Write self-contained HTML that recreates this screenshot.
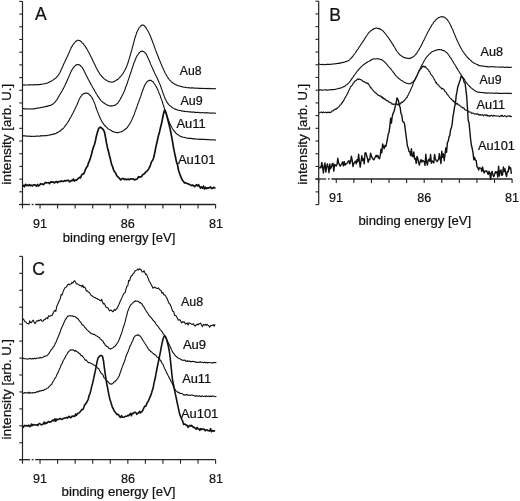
<!DOCTYPE html>
<html><head><meta charset="utf-8"><title>XPS spectra</title>
<style>html,body{margin:0;padding:0;background:#fff;width:520px;height:501px;overflow:hidden}svg{display:block}</style>
</head><body>
<svg width="520" height="501" viewBox="0 0 520 501">
<rect width="520" height="501" fill="#fff"/>
<g font-family="&quot;Liberation Sans&quot;, Arial, sans-serif" fill="#111" stroke="#111" stroke-width="0.22">
<text x="35" y="19.8" font-size="17.5" text-anchor="start" >A</text>
<text x="329.3" y="20.8" font-size="17.5" text-anchor="start" >B</text>
<text x="32.3" y="275.1" font-size="17.5" text-anchor="start" >C</text>
<text transform="translate(11.4,184.82) rotate(-90)" x="0" y="0" font-size="12.5" textLength="50.55" lengthAdjust="spacingAndGlyphs">intensity</text>
<text transform="translate(11.4,130.74) rotate(-90)" x="0" y="0" font-size="12.5" textLength="46.88" lengthAdjust="spacingAndGlyphs">[arb. U.]</text>
<text transform="translate(306.8,184.83) rotate(-90)" x="0" y="0" font-size="12.5" textLength="50.85" lengthAdjust="spacingAndGlyphs">intensity</text>
<text transform="translate(306.8,130.54) rotate(-90)" x="0" y="0" font-size="12.5" textLength="46.78" lengthAdjust="spacingAndGlyphs">[arb. U.]</text>
<text transform="translate(11.4,439.42) rotate(-90)" x="0" y="0" font-size="12.5" textLength="50.24" lengthAdjust="spacingAndGlyphs">intensity</text>
<text transform="translate(11.4,385.53) rotate(-90)" x="0" y="0" font-size="12.5" textLength="46.46" lengthAdjust="spacingAndGlyphs">[arb. U.]</text>
<text x="40.0" y="227.6" font-size="13" text-anchor="middle" textLength="14.0" lengthAdjust="spacingAndGlyphs" >91</text>
<text x="127.7" y="227.6" font-size="13" text-anchor="middle" textLength="14.0" lengthAdjust="spacingAndGlyphs" >86</text>
<text x="216.0" y="227.6" font-size="13" text-anchor="middle" textLength="14.0" lengthAdjust="spacingAndGlyphs" >81</text>
<text x="335.9" y="202.3" font-size="13" text-anchor="middle" textLength="14.0" lengthAdjust="spacingAndGlyphs" >91</text>
<text x="424.3" y="202.3" font-size="13" text-anchor="middle" textLength="14.0" lengthAdjust="spacingAndGlyphs" >86</text>
<text x="512.1" y="202.3" font-size="13" text-anchor="middle" textLength="14.0" lengthAdjust="spacingAndGlyphs" >81</text>
<text x="40.0" y="483.0" font-size="13" text-anchor="middle" textLength="14.0" lengthAdjust="spacingAndGlyphs" >91</text>
<text x="128.0" y="483.0" font-size="13" text-anchor="middle" textLength="14.0" lengthAdjust="spacingAndGlyphs" >86</text>
<text x="215.9" y="483.0" font-size="13" text-anchor="middle" textLength="14.0" lengthAdjust="spacingAndGlyphs" >81</text>
<text x="62.8" y="241.6" font-size="13" text-anchor="start" textLength="112.5" lengthAdjust="spacingAndGlyphs" >binding energy [eV]</text>
<text x="358.5" y="225.2" font-size="13" text-anchor="start" textLength="112.7" lengthAdjust="spacingAndGlyphs" >binding energy [eV]</text>
<text x="61.6" y="496.0" font-size="13" text-anchor="start" textLength="113.9" lengthAdjust="spacingAndGlyphs" >binding energy [eV]</text>
<text x="179.75" y="75.4" font-size="12.5" text-anchor="start" textLength="21.7" lengthAdjust="spacingAndGlyphs" >Au8</text>
<text x="180.4" y="104.6" font-size="12.5" text-anchor="start" textLength="22.2" lengthAdjust="spacingAndGlyphs" >Au9</text>
<text x="176.5" y="128.4" font-size="12.5" text-anchor="start" textLength="29.2" lengthAdjust="spacingAndGlyphs" >Au11</text>
<text x="177.9" y="164.2" font-size="12.5" text-anchor="start" textLength="37.6" lengthAdjust="spacingAndGlyphs" >Au101</text>
<text x="480.5" y="56.1" font-size="12.5" text-anchor="start" textLength="22.5" lengthAdjust="spacingAndGlyphs" >Au8</text>
<text x="479.6" y="83.5" font-size="12.5" text-anchor="start" textLength="21.9" lengthAdjust="spacingAndGlyphs" >Au9</text>
<text x="476.4" y="108.5" font-size="12.5" text-anchor="start" textLength="28.8" lengthAdjust="spacingAndGlyphs" >Au11</text>
<text x="478.0" y="150.0" font-size="12.5" text-anchor="start" textLength="36.9" lengthAdjust="spacingAndGlyphs" >Au101</text>
<text x="180.9" y="305.6" font-size="12.5" text-anchor="start" textLength="22.2" lengthAdjust="spacingAndGlyphs" >Au8</text>
<text x="182.9" y="349.1" font-size="12.5" text-anchor="start" textLength="23.2" lengthAdjust="spacingAndGlyphs" >Au9</text>
<text x="182.2" y="383.0" font-size="12.5" text-anchor="start" textLength="29.0" lengthAdjust="spacingAndGlyphs" >Au11</text>
<text x="180.9" y="417.5" font-size="12.5" text-anchor="start" textLength="37.4" lengthAdjust="spacingAndGlyphs" >Au101</text>
</g>
<line x1="22.5" y1="1.4" x2="22.5" y2="204.5" stroke="#222" stroke-width="1.2"/>
<line x1="19.3" y1="1.40" x2="22.5" y2="1.40" stroke="#222" stroke-width="1.1"/>
<line x1="19.3" y1="14.09" x2="22.5" y2="14.09" stroke="#222" stroke-width="1.1"/>
<line x1="19.3" y1="26.79" x2="22.5" y2="26.79" stroke="#222" stroke-width="1.1"/>
<line x1="19.3" y1="39.48" x2="22.5" y2="39.48" stroke="#222" stroke-width="1.1"/>
<line x1="19.3" y1="52.17" x2="22.5" y2="52.17" stroke="#222" stroke-width="1.1"/>
<line x1="19.3" y1="64.87" x2="22.5" y2="64.87" stroke="#222" stroke-width="1.1"/>
<line x1="19.3" y1="77.56" x2="22.5" y2="77.56" stroke="#222" stroke-width="1.1"/>
<line x1="19.3" y1="90.26" x2="22.5" y2="90.26" stroke="#222" stroke-width="1.1"/>
<line x1="19.3" y1="102.95" x2="22.5" y2="102.95" stroke="#222" stroke-width="1.1"/>
<line x1="19.3" y1="115.64" x2="22.5" y2="115.64" stroke="#222" stroke-width="1.1"/>
<line x1="19.3" y1="128.34" x2="22.5" y2="128.34" stroke="#222" stroke-width="1.1"/>
<line x1="19.3" y1="141.03" x2="22.5" y2="141.03" stroke="#222" stroke-width="1.1"/>
<line x1="19.3" y1="153.72" x2="22.5" y2="153.72" stroke="#222" stroke-width="1.1"/>
<line x1="19.3" y1="166.42" x2="22.5" y2="166.42" stroke="#222" stroke-width="1.1"/>
<line x1="19.3" y1="179.11" x2="22.5" y2="179.11" stroke="#222" stroke-width="1.1"/>
<line x1="19.3" y1="191.81" x2="22.5" y2="191.81" stroke="#222" stroke-width="1.1"/>
<line x1="19.3" y1="204.50" x2="22.5" y2="204.50" stroke="#222" stroke-width="1.1"/>
<line x1="19.30" y1="204.5" x2="30.00" y2="204.5" stroke="#222" stroke-width="1.3"/>
<line x1="31.70" y1="204.5" x2="33.50" y2="204.5" stroke="#222" stroke-width="1.3"/>
<line x1="35.20" y1="204.5" x2="215.60" y2="204.5" stroke="#222" stroke-width="1.3"/>
<line x1="22.50" y1="204.5" x2="22.50" y2="208.5" stroke="#222" stroke-width="1.1"/>
<line x1="40.05" y1="204.5" x2="40.05" y2="208.5" stroke="#222" stroke-width="1.1"/>
<line x1="57.61" y1="204.5" x2="57.61" y2="208.5" stroke="#222" stroke-width="1.1"/>
<line x1="75.16" y1="204.5" x2="75.16" y2="208.5" stroke="#222" stroke-width="1.1"/>
<line x1="92.72" y1="204.5" x2="92.72" y2="208.5" stroke="#222" stroke-width="1.1"/>
<line x1="110.27" y1="204.5" x2="110.27" y2="208.5" stroke="#222" stroke-width="1.1"/>
<line x1="127.83" y1="204.5" x2="127.83" y2="208.5" stroke="#222" stroke-width="1.1"/>
<line x1="145.38" y1="204.5" x2="145.38" y2="208.5" stroke="#222" stroke-width="1.1"/>
<line x1="162.94" y1="204.5" x2="162.94" y2="208.5" stroke="#222" stroke-width="1.1"/>
<line x1="180.49" y1="204.5" x2="180.49" y2="208.5" stroke="#222" stroke-width="1.1"/>
<line x1="198.05" y1="204.5" x2="198.05" y2="208.5" stroke="#222" stroke-width="1.1"/>
<line x1="215.60" y1="204.5" x2="215.60" y2="208.5" stroke="#222" stroke-width="1.1"/>
<line x1="318.7" y1="1.2" x2="318.7" y2="204.6" stroke="#222" stroke-width="1.2"/>
<line x1="315.5" y1="1.20" x2="318.7" y2="1.20" stroke="#222" stroke-width="1.1"/>
<line x1="315.5" y1="13.91" x2="318.7" y2="13.91" stroke="#222" stroke-width="1.1"/>
<line x1="315.5" y1="26.62" x2="318.7" y2="26.62" stroke="#222" stroke-width="1.1"/>
<line x1="315.5" y1="39.34" x2="318.7" y2="39.34" stroke="#222" stroke-width="1.1"/>
<line x1="315.5" y1="52.05" x2="318.7" y2="52.05" stroke="#222" stroke-width="1.1"/>
<line x1="315.5" y1="64.76" x2="318.7" y2="64.76" stroke="#222" stroke-width="1.1"/>
<line x1="315.5" y1="77.48" x2="318.7" y2="77.48" stroke="#222" stroke-width="1.1"/>
<line x1="315.5" y1="90.19" x2="318.7" y2="90.19" stroke="#222" stroke-width="1.1"/>
<line x1="315.5" y1="102.90" x2="318.7" y2="102.90" stroke="#222" stroke-width="1.1"/>
<line x1="315.5" y1="115.61" x2="318.7" y2="115.61" stroke="#222" stroke-width="1.1"/>
<line x1="315.5" y1="128.32" x2="318.7" y2="128.32" stroke="#222" stroke-width="1.1"/>
<line x1="315.5" y1="141.04" x2="318.7" y2="141.04" stroke="#222" stroke-width="1.1"/>
<line x1="315.5" y1="153.75" x2="318.7" y2="153.75" stroke="#222" stroke-width="1.1"/>
<line x1="315.5" y1="166.46" x2="318.7" y2="166.46" stroke="#222" stroke-width="1.1"/>
<line x1="315.5" y1="179.17" x2="318.7" y2="179.17" stroke="#222" stroke-width="1.1"/>
<line x1="315.5" y1="191.89" x2="318.7" y2="191.89" stroke="#222" stroke-width="1.1"/>
<line x1="315.5" y1="204.60" x2="318.7" y2="204.60" stroke="#222" stroke-width="1.1"/>
<line x1="315.50" y1="179.0" x2="326.20" y2="179.0" stroke="#222" stroke-width="1.3"/>
<line x1="327.90" y1="179.0" x2="329.70" y2="179.0" stroke="#222" stroke-width="1.3"/>
<line x1="331.40" y1="179.0" x2="512.10" y2="179.0" stroke="#222" stroke-width="1.3"/>
<line x1="318.70" y1="179.0" x2="318.70" y2="183.0" stroke="#222" stroke-width="1.1"/>
<line x1="336.28" y1="179.0" x2="336.28" y2="183.0" stroke="#222" stroke-width="1.1"/>
<line x1="353.86" y1="179.0" x2="353.86" y2="183.0" stroke="#222" stroke-width="1.1"/>
<line x1="371.45" y1="179.0" x2="371.45" y2="183.0" stroke="#222" stroke-width="1.1"/>
<line x1="389.03" y1="179.0" x2="389.03" y2="183.0" stroke="#222" stroke-width="1.1"/>
<line x1="406.61" y1="179.0" x2="406.61" y2="183.0" stroke="#222" stroke-width="1.1"/>
<line x1="424.19" y1="179.0" x2="424.19" y2="183.0" stroke="#222" stroke-width="1.1"/>
<line x1="441.77" y1="179.0" x2="441.77" y2="183.0" stroke="#222" stroke-width="1.1"/>
<line x1="459.35" y1="179.0" x2="459.35" y2="183.0" stroke="#222" stroke-width="1.1"/>
<line x1="476.94" y1="179.0" x2="476.94" y2="183.0" stroke="#222" stroke-width="1.1"/>
<line x1="494.52" y1="179.0" x2="494.52" y2="183.0" stroke="#222" stroke-width="1.1"/>
<line x1="512.10" y1="179.0" x2="512.10" y2="183.0" stroke="#222" stroke-width="1.1"/>
<line x1="22.5" y1="256.4" x2="22.5" y2="459.7" stroke="#222" stroke-width="1.2"/>
<line x1="19.3" y1="256.40" x2="22.5" y2="256.40" stroke="#222" stroke-width="1.1"/>
<line x1="19.3" y1="273.34" x2="22.5" y2="273.34" stroke="#222" stroke-width="1.1"/>
<line x1="19.3" y1="290.28" x2="22.5" y2="290.28" stroke="#222" stroke-width="1.1"/>
<line x1="19.3" y1="307.22" x2="22.5" y2="307.22" stroke="#222" stroke-width="1.1"/>
<line x1="19.3" y1="324.17" x2="22.5" y2="324.17" stroke="#222" stroke-width="1.1"/>
<line x1="19.3" y1="341.11" x2="22.5" y2="341.11" stroke="#222" stroke-width="1.1"/>
<line x1="19.3" y1="358.05" x2="22.5" y2="358.05" stroke="#222" stroke-width="1.1"/>
<line x1="19.3" y1="374.99" x2="22.5" y2="374.99" stroke="#222" stroke-width="1.1"/>
<line x1="19.3" y1="391.93" x2="22.5" y2="391.93" stroke="#222" stroke-width="1.1"/>
<line x1="19.3" y1="408.88" x2="22.5" y2="408.88" stroke="#222" stroke-width="1.1"/>
<line x1="19.3" y1="425.82" x2="22.5" y2="425.82" stroke="#222" stroke-width="1.1"/>
<line x1="19.3" y1="442.76" x2="22.5" y2="442.76" stroke="#222" stroke-width="1.1"/>
<line x1="19.3" y1="459.70" x2="22.5" y2="459.70" stroke="#222" stroke-width="1.1"/>
<line x1="19.30" y1="459.7" x2="30.00" y2="459.7" stroke="#222" stroke-width="1.3"/>
<line x1="31.70" y1="459.7" x2="33.50" y2="459.7" stroke="#222" stroke-width="1.3"/>
<line x1="35.20" y1="459.7" x2="215.60" y2="459.7" stroke="#222" stroke-width="1.3"/>
<line x1="22.50" y1="459.7" x2="22.50" y2="463.7" stroke="#222" stroke-width="1.1"/>
<line x1="40.05" y1="459.7" x2="40.05" y2="463.7" stroke="#222" stroke-width="1.1"/>
<line x1="57.61" y1="459.7" x2="57.61" y2="463.7" stroke="#222" stroke-width="1.1"/>
<line x1="75.16" y1="459.7" x2="75.16" y2="463.7" stroke="#222" stroke-width="1.1"/>
<line x1="92.72" y1="459.7" x2="92.72" y2="463.7" stroke="#222" stroke-width="1.1"/>
<line x1="110.27" y1="459.7" x2="110.27" y2="463.7" stroke="#222" stroke-width="1.1"/>
<line x1="127.83" y1="459.7" x2="127.83" y2="463.7" stroke="#222" stroke-width="1.1"/>
<line x1="145.38" y1="459.7" x2="145.38" y2="463.7" stroke="#222" stroke-width="1.1"/>
<line x1="162.94" y1="459.7" x2="162.94" y2="463.7" stroke="#222" stroke-width="1.1"/>
<line x1="180.49" y1="459.7" x2="180.49" y2="463.7" stroke="#222" stroke-width="1.1"/>
<line x1="198.05" y1="459.7" x2="198.05" y2="463.7" stroke="#222" stroke-width="1.1"/>
<line x1="215.60" y1="459.7" x2="215.60" y2="463.7" stroke="#222" stroke-width="1.1"/>
<path d="M22.50,85.04 L23.00,85.10 L23.50,85.04 L24.00,84.84 L24.50,85.10 L25.00,85.04 L25.50,84.92 L26.00,85.05 L26.50,85.01 L27.00,85.00 L27.50,84.96 L28.00,85.01 L28.50,84.85 L29.00,84.91 L29.50,84.86 L30.00,84.97 L30.50,84.89 L31.00,84.84 L31.50,84.77 L32.00,84.82 L32.50,84.83 L33.00,84.78 L33.50,84.95 L34.00,84.90 L34.50,84.52 L35.00,84.51 L35.50,84.70 L36.00,84.65 L36.50,84.70 L37.00,84.68 L37.50,84.87 L38.00,84.47 L38.50,84.53 L39.00,84.79 L39.50,84.60 L40.00,84.56 L40.50,84.38 L41.00,84.19 L41.50,84.35 L42.00,84.28 L42.50,84.04 L43.00,84.02 L43.50,84.00 L44.00,83.79 L44.50,83.78 L45.00,83.69 L45.50,83.55 L46.00,83.35 L46.50,83.34 L47.00,83.22 L47.50,82.99 L48.00,82.66 L48.50,82.64 L49.00,82.27 L49.50,82.19 L50.00,81.70 L50.50,81.67 L51.00,81.27 L51.50,80.84 L52.00,80.65 L52.50,80.39 L53.00,80.11 L53.50,79.63 L54.00,79.28 L54.50,79.08 L55.00,78.63 L55.50,78.30 L56.00,77.92 L56.50,77.15 L57.00,76.84 L57.50,76.37 L58.00,75.53 L58.50,74.76 L59.00,74.17 L59.50,73.28 L60.00,72.46 L60.50,71.35 L61.00,70.19 L61.50,69.27 L62.00,68.10 L62.50,67.09 L63.00,65.85 L63.50,64.48 L64.00,63.41 L64.50,62.56 L65.00,61.48 L65.50,60.28 L66.00,59.33 L66.50,58.35 L67.00,57.31 L67.50,56.27 L68.00,55.08 L68.50,53.88 L69.00,52.68 L69.50,51.66 L70.00,50.15 L70.50,49.27 L71.00,48.25 L71.50,47.09 L72.00,46.38 L72.50,45.41 L73.00,44.80 L73.50,43.96 L74.00,43.40 L74.50,42.87 L75.00,42.23 L75.50,41.59 L76.00,41.08 L76.50,41.10 L77.00,40.57 L77.50,40.29 L78.00,40.27 L78.50,40.21 L79.00,40.43 L79.50,40.52 L80.00,40.79 L80.50,41.05 L81.00,41.60 L81.50,41.88 L82.00,42.57 L82.50,43.20 L83.00,43.38 L83.50,43.91 L84.00,44.83 L84.50,45.65 L85.00,45.99 L85.50,46.69 L86.00,47.68 L86.50,48.30 L87.00,49.17 L87.50,50.04 L88.00,51.02 L88.50,51.81 L89.00,52.83 L89.50,53.74 L90.00,54.65 L90.50,55.72 L91.00,56.67 L91.50,57.82 L92.00,58.71 L92.50,59.75 L93.00,61.10 L93.50,61.95 L94.00,62.99 L94.50,64.10 L95.00,65.02 L95.50,66.07 L96.00,67.16 L96.50,68.14 L97.00,68.94 L97.50,70.13 L98.00,70.88 L98.50,71.72 L99.00,72.58 L99.50,73.43 L100.00,74.41 L100.50,74.76 L101.00,75.56 L101.50,75.89 L102.00,76.68 L102.50,77.30 L103.00,77.65 L103.50,78.05 L104.00,78.56 L104.50,79.01 L105.00,79.37 L105.50,79.88 L106.00,80.00 L106.50,80.22 L107.00,80.59 L107.50,80.88 L108.00,81.18 L108.50,81.41 L109.00,81.66 L109.50,81.62 L110.00,82.07 L110.50,82.01 L111.00,82.00 L111.50,82.23 L112.00,82.28 L112.50,82.10 L113.00,81.94 L113.50,81.65 L114.00,81.80 L114.50,81.44 L115.00,80.94 L115.50,80.70 L116.00,80.50 L116.50,79.99 L117.00,79.86 L117.50,79.42 L118.00,79.24 L118.50,78.79 L119.00,77.99 L119.50,77.74 L120.00,77.02 L120.50,76.78 L121.00,76.07 L121.50,75.49 L122.00,74.63 L122.50,74.28 L123.00,73.56 L123.50,72.42 L124.00,71.78 L124.50,70.79 L125.00,69.95 L125.50,68.82 L126.00,68.14 L126.50,66.66 L127.00,65.49 L127.50,64.23 L128.00,62.63 L128.50,61.12 L129.00,59.46 L129.50,57.83 L130.00,56.00 L130.50,54.36 L131.00,52.64 L131.50,50.84 L132.00,49.06 L132.50,47.16 L133.00,45.40 L133.50,43.39 L134.00,41.55 L134.50,39.68 L135.00,37.96 L135.50,36.24 L136.00,34.92 L136.50,33.31 L137.00,32.06 L137.50,31.02 L138.00,29.96 L138.50,28.92 L139.00,27.89 L139.50,27.45 L140.00,26.80 L140.50,26.07 L141.00,25.89 L141.50,25.37 L142.00,25.07 L142.50,25.09 L143.00,25.06 L143.50,25.26 L144.00,25.34 L144.50,26.18 L145.00,26.43 L145.50,26.96 L146.00,27.92 L146.50,28.56 L147.00,29.45 L147.50,30.23 L148.00,31.17 L148.50,32.16 L149.00,33.06 L149.50,34.29 L150.00,35.26 L150.50,36.37 L151.00,37.69 L151.50,38.99 L152.00,40.22 L152.50,41.48 L153.00,43.03 L153.50,44.13 L154.00,45.61 L154.50,47.12 L155.00,48.32 L155.50,49.84 L156.00,51.16 L156.50,52.59 L157.00,53.66 L157.50,54.97 L158.00,56.35 L158.50,57.33 L159.00,59.06 L159.50,59.97 L160.00,61.19 L160.50,62.59 L161.00,63.68 L161.50,64.65 L162.00,66.10 L162.50,67.27 L163.00,68.24 L163.50,69.38 L164.00,70.57 L164.50,71.47 L165.00,72.68 L165.50,73.66 L166.00,74.50 L166.50,75.32 L167.00,76.30 L167.50,77.00 L168.00,77.96 L168.50,78.55 L169.00,79.27 L169.50,79.80 L170.00,80.38 L170.50,80.78 L171.00,81.45 L171.50,82.04 L172.00,82.21 L172.50,82.57 L173.00,82.99 L173.50,83.30 L174.00,83.59 L174.50,84.00 L175.00,84.23 L175.50,84.70 L176.00,84.77 L176.50,85.03 L177.00,85.31 L177.50,85.35 L178.00,85.74 L178.50,85.66 L179.00,85.80 L179.50,86.00 L180.00,86.18 L180.50,86.18 L181.00,86.48 L181.50,86.43 L182.00,86.93 L182.50,86.89 L183.00,86.95 L183.50,87.03 L184.00,87.20 L184.50,87.31 L185.00,87.29 L185.50,87.37 L186.00,87.52 L186.50,87.53 L187.00,87.75 L187.50,87.82 L188.00,87.72 L188.50,87.82 L189.00,87.64 L189.50,87.91 L190.00,87.86 L190.50,87.95 L191.00,88.12 L191.50,87.71 L192.00,88.01 L192.50,87.87 L193.00,88.10 L193.50,87.89 L194.00,88.02 L194.50,88.12 L195.00,88.19 L195.50,88.15 L196.00,88.06 L196.50,88.11 L197.00,88.30 L197.50,88.21 L198.00,88.03 L198.50,88.35 L199.00,88.32 L199.50,88.39 L200.00,88.26 L200.50,88.42 L201.00,88.21 L201.50,88.42 L202.00,88.31 L202.50,88.46 L203.00,88.52 L203.50,88.33 L204.00,88.43 L204.50,88.45 L205.00,88.61 L205.50,88.56 L206.00,88.35 L206.50,88.56 L207.00,88.61 L207.50,88.78 L208.00,88.35 L208.50,88.50 L209.00,88.73 L209.50,88.42 L210.00,88.45 L210.50,88.67 L211.00,88.74 L211.50,88.55 L212.00,88.71 L212.50,88.66 L213.00,88.84 L213.50,88.67 L214.00,88.79 L214.50,88.57 L215.00,88.66 L215.50,88.68 L216.00,88.83" fill="none" stroke="#111" stroke-width="1.1" stroke-linejoin="round"/>
<path d="M22.50,108.59 L23.00,108.54 L23.50,108.60 L24.00,108.46 L24.50,108.96 L25.00,108.93 L25.50,108.79 L26.00,108.96 L26.50,108.93 L27.00,108.85 L27.50,109.06 L28.00,108.92 L28.50,108.93 L29.00,108.88 L29.50,109.04 L30.00,108.98 L30.50,109.06 L31.00,108.91 L31.50,108.99 L32.00,108.85 L32.50,109.03 L33.00,108.92 L33.50,108.89 L34.00,108.84 L34.50,108.60 L35.00,108.74 L35.50,108.80 L36.00,108.28 L36.50,108.17 L37.00,108.11 L37.50,108.29 L38.00,108.10 L38.50,108.12 L39.00,107.98 L39.50,107.82 L40.00,107.74 L40.50,107.59 L41.00,107.62 L41.50,107.29 L42.00,107.28 L42.50,107.27 L43.00,107.36 L43.50,106.95 L44.00,106.81 L44.50,106.76 L45.00,106.84 L45.50,106.58 L46.00,106.65 L46.50,106.15 L47.00,106.39 L47.50,106.26 L48.00,105.84 L48.50,105.90 L49.00,105.88 L49.50,105.60 L50.00,105.55 L50.50,105.49 L51.00,105.09 L51.50,104.81 L52.00,104.50 L52.50,104.38 L53.00,103.95 L53.50,103.59 L54.00,103.18 L54.50,102.80 L55.00,102.07 L55.50,101.43 L56.00,100.73 L56.50,100.41 L57.00,99.50 L57.50,98.86 L58.00,97.83 L58.50,96.88 L59.00,96.17 L59.50,95.25 L60.00,94.27 L60.50,93.48 L61.00,92.96 L61.50,91.94 L62.00,91.08 L62.50,90.11 L63.00,89.14 L63.50,88.38 L64.00,87.28 L64.50,86.19 L65.00,85.22 L65.50,84.07 L66.00,83.12 L66.50,82.12 L67.00,80.76 L67.50,79.89 L68.00,78.49 L68.50,77.44 L69.00,76.17 L69.50,75.12 L70.00,74.04 L70.50,72.90 L71.00,71.82 L71.50,70.82 L72.00,69.85 L72.50,68.88 L73.00,68.22 L73.50,67.56 L74.00,66.95 L74.50,66.33 L75.00,65.99 L75.50,65.37 L76.00,64.95 L76.50,64.99 L77.00,64.50 L77.50,64.68 L78.00,64.47 L78.50,64.72 L79.00,64.61 L79.50,65.17 L80.00,65.33 L80.50,65.58 L81.00,66.32 L81.50,66.73 L82.00,67.26 L82.50,67.89 L83.00,68.80 L83.50,69.69 L84.00,70.78 L84.50,71.81 L85.00,72.67 L85.50,73.72 L86.00,74.74 L86.50,75.65 L87.00,76.72 L87.50,77.74 L88.00,78.79 L88.50,79.81 L89.00,80.50 L89.50,81.60 L90.00,82.41 L90.50,83.63 L91.00,84.30 L91.50,85.28 L92.00,86.01 L92.50,86.92 L93.00,87.93 L93.50,88.74 L94.00,89.70 L94.50,90.33 L95.00,91.46 L95.50,92.12 L96.00,93.28 L96.50,93.87 L97.00,94.87 L97.50,95.40 L98.00,96.43 L98.50,97.07 L99.00,97.88 L99.50,98.66 L100.00,99.28 L100.50,99.96 L101.00,100.59 L101.50,101.10 L102.00,101.50 L102.50,101.80 L103.00,102.28 L103.50,102.74 L104.00,102.89 L104.50,103.55 L105.00,103.75 L105.50,104.04 L106.00,104.47 L106.50,104.70 L107.00,104.91 L107.50,105.00 L108.00,105.37 L108.50,105.57 L109.00,105.59 L109.50,105.95 L110.00,105.98 L110.50,105.74 L111.00,106.01 L111.50,105.83 L112.00,106.07 L112.50,105.96 L113.00,105.62 L113.50,105.52 L114.00,105.49 L114.50,105.27 L115.00,105.28 L115.50,104.95 L116.00,104.54 L116.50,104.30 L117.00,103.57 L117.50,103.33 L118.00,102.77 L118.50,101.94 L119.00,101.10 L119.50,100.44 L120.00,99.76 L120.50,98.68 L121.00,97.65 L121.50,97.06 L122.00,95.74 L122.50,95.06 L123.00,93.91 L123.50,93.02 L124.00,91.67 L124.50,90.73 L125.00,89.35 L125.50,87.79 L126.00,86.40 L126.50,85.21 L127.00,83.98 L127.50,82.40 L128.00,80.93 L128.50,79.41 L129.00,78.03 L129.50,76.48 L130.00,74.95 L130.50,73.28 L131.00,72.01 L131.50,70.51 L132.00,68.67 L132.50,67.56 L133.00,65.93 L133.50,64.35 L134.00,62.79 L134.50,61.76 L135.00,60.46 L135.50,59.10 L136.00,57.79 L136.50,57.07 L137.00,55.88 L137.50,55.01 L138.00,54.52 L138.50,53.83 L139.00,53.10 L139.50,52.42 L140.00,52.12 L140.50,51.46 L141.00,51.47 L141.50,51.22 L142.00,51.10 L142.50,51.10 L143.00,51.46 L143.50,51.59 L144.00,51.85 L144.50,52.27 L145.00,52.51 L145.50,53.03 L146.00,53.67 L146.50,54.69 L147.00,55.78 L147.50,56.73 L148.00,57.94 L148.50,58.87 L149.00,60.11 L149.50,61.24 L150.00,62.35 L150.50,63.89 L151.00,64.95 L151.50,65.94 L152.00,67.12 L152.50,68.37 L153.00,69.36 L153.50,70.71 L154.00,71.60 L154.50,72.78 L155.00,73.74 L155.50,74.83 L156.00,75.73 L156.50,76.71 L157.00,77.78 L157.50,78.83 L158.00,79.91 L158.50,81.01 L159.00,82.29 L159.50,83.36 L160.00,84.46 L160.50,85.87 L161.00,87.06 L161.50,88.74 L162.00,90.10 L162.50,91.37 L163.00,93.10 L163.50,94.56 L164.00,95.60 L164.50,97.05 L165.00,98.27 L165.50,99.18 L166.00,100.25 L166.50,101.14 L167.00,102.12 L167.50,102.83 L168.00,103.72 L168.50,104.07 L169.00,104.84 L169.50,105.27 L170.00,105.80 L170.50,106.09 L171.00,106.42 L171.50,106.94 L172.00,107.47 L172.50,107.89 L173.00,108.06 L173.50,108.32 L174.00,108.42 L174.50,108.95 L175.00,109.15 L175.50,109.15 L176.00,109.41 L176.50,109.48 L177.00,109.96 L177.50,109.99 L178.00,110.09 L178.50,110.29 L179.00,110.42 L179.50,110.44 L180.00,110.45 L180.50,110.55 L181.00,110.59 L181.50,110.94 L182.00,111.21 L182.50,110.85 L183.00,111.15 L183.50,111.25 L184.00,111.16 L184.50,111.37 L185.00,111.27 L185.50,111.61 L186.00,111.45 L186.50,111.59 L187.00,111.71 L187.50,111.63 L188.00,111.51 L188.50,111.71 L189.00,111.91 L189.50,111.85 L190.00,111.92 L190.50,111.80 L191.00,111.99 L191.50,112.10 L192.00,112.05 L192.50,112.31 L193.00,112.09 L193.50,112.02 L194.00,111.99 L194.50,112.36 L195.00,112.25 L195.50,112.41 L196.00,112.38 L196.50,112.55 L197.00,112.54 L197.50,112.37 L198.00,112.48 L198.50,112.61 L199.00,112.36 L199.50,112.72 L200.00,112.72 L200.50,112.72 L201.00,112.60 L201.50,112.69 L202.00,112.55 L202.50,112.72 L203.00,112.66 L203.50,112.77 L204.00,112.73 L204.50,112.84 L205.00,112.97 L205.50,112.70 L206.00,112.99 L206.50,112.66 L207.00,112.67 L207.50,112.92 L208.00,112.95 L208.50,113.02 L209.00,112.79 L209.50,112.99 L210.00,113.03 L210.50,113.18 L211.00,113.03 L211.50,113.11 L212.00,112.94 L212.50,113.04 L213.00,113.02 L213.50,113.17 L214.00,112.97 L214.50,112.99 L215.00,113.16 L215.50,113.31 L216.00,113.14" fill="none" stroke="#111" stroke-width="1.1" stroke-linejoin="round"/>
<path d="M22.50,136.14 L23.00,135.57 L23.50,135.97 L24.00,135.85 L24.50,135.91 L25.00,135.98 L25.50,135.75 L26.00,136.06 L26.50,135.99 L27.00,136.45 L27.50,136.21 L28.00,136.15 L28.50,136.19 L29.00,136.15 L29.50,136.10 L30.00,136.22 L30.50,136.36 L31.00,136.25 L31.50,136.43 L32.00,136.26 L32.50,136.29 L33.00,136.51 L33.50,136.36 L34.00,136.19 L34.50,136.22 L35.00,136.32 L35.50,136.51 L36.00,136.16 L36.50,136.14 L37.00,136.31 L37.50,136.00 L38.00,136.07 L38.50,136.22 L39.00,136.14 L39.50,136.04 L40.00,136.10 L40.50,135.67 L41.00,136.09 L41.50,135.76 L42.00,135.62 L42.50,135.88 L43.00,135.91 L43.50,135.70 L44.00,135.56 L44.50,135.69 L45.00,135.63 L45.50,135.80 L46.00,135.65 L46.50,135.51 L47.00,135.59 L47.50,135.33 L48.00,135.15 L48.50,135.31 L49.00,135.23 L49.50,135.03 L50.00,134.86 L50.50,134.92 L51.00,134.50 L51.50,134.80 L52.00,134.67 L52.50,134.24 L53.00,134.38 L53.50,134.11 L54.00,134.23 L54.50,133.67 L55.00,133.66 L55.50,133.71 L56.00,133.57 L56.50,132.85 L57.00,132.82 L57.50,132.67 L58.00,132.23 L58.50,132.26 L59.00,131.52 L59.50,131.41 L60.00,130.84 L60.50,130.83 L61.00,130.22 L61.50,129.76 L62.00,129.12 L62.50,129.16 L63.00,128.53 L63.50,128.01 L64.00,127.52 L64.50,126.83 L65.00,126.07 L65.50,125.41 L66.00,124.74 L66.50,124.38 L67.00,123.24 L67.50,122.62 L68.00,121.88 L68.50,121.15 L69.00,120.36 L69.50,119.22 L70.00,118.25 L70.50,117.60 L71.00,116.86 L71.50,115.85 L72.00,114.83 L72.50,113.80 L73.00,112.93 L73.50,111.88 L74.00,111.06 L74.50,109.81 L75.00,108.93 L75.50,107.84 L76.00,106.85 L76.50,105.68 L77.00,104.79 L77.50,103.53 L78.00,102.36 L78.50,100.68 L79.00,99.84 L79.50,98.77 L80.00,97.99 L80.50,96.76 L81.00,96.47 L81.50,95.79 L82.00,94.87 L82.50,94.43 L83.00,94.05 L83.50,93.83 L84.00,93.63 L84.50,93.60 L85.00,93.08 L85.50,93.10 L86.00,92.95 L86.50,93.21 L87.00,93.15 L87.50,93.42 L88.00,93.31 L88.50,93.77 L89.00,94.07 L89.50,94.88 L90.00,95.28 L90.50,95.70 L91.00,96.30 L91.50,97.12 L92.00,97.70 L92.50,98.50 L93.00,99.67 L93.50,100.98 L94.00,101.85 L94.50,103.12 L95.00,104.42 L95.50,105.82 L96.00,107.53 L96.50,108.99 L97.00,110.23 L97.50,111.63 L98.00,112.92 L98.50,114.21 L99.00,115.22 L99.50,116.60 L100.00,117.84 L100.50,118.79 L101.00,119.84 L101.50,120.72 L102.00,121.63 L102.50,122.59 L103.00,123.12 L103.50,123.83 L104.00,124.61 L104.50,125.18 L105.00,125.91 L105.50,125.90 L106.00,126.85 L106.50,127.13 L107.00,127.68 L107.50,128.22 L108.00,128.66 L108.50,129.03 L109.00,129.25 L109.50,129.79 L110.00,129.81 L110.50,130.13 L111.00,130.54 L111.50,130.61 L112.00,131.25 L112.50,131.35 L113.00,131.73 L113.50,131.65 L114.00,131.80 L114.50,132.07 L115.00,132.31 L115.50,132.25 L116.00,132.51 L116.50,132.53 L117.00,132.83 L117.50,132.50 L118.00,132.74 L118.50,132.43 L119.00,132.30 L119.50,132.22 L120.00,132.01 L120.50,132.03 L121.00,131.97 L121.50,131.61 L122.00,131.44 L122.50,131.32 L123.00,130.83 L123.50,130.52 L124.00,130.13 L124.50,129.60 L125.00,129.60 L125.50,128.84 L126.00,128.78 L126.50,128.21 L127.00,127.86 L127.50,127.10 L128.00,126.34 L128.50,125.81 L129.00,124.92 L129.50,124.17 L130.00,123.35 L130.50,122.43 L131.00,121.49 L131.50,120.42 L132.00,119.50 L132.50,118.15 L133.00,117.29 L133.50,115.92 L134.00,115.00 L134.50,113.71 L135.00,111.86 L135.50,110.79 L136.00,109.34 L136.50,107.79 L137.00,106.63 L137.50,105.09 L138.00,103.52 L138.50,102.38 L139.00,101.03 L139.50,99.69 L140.00,98.09 L140.50,96.94 L141.00,95.49 L141.50,93.73 L142.00,92.33 L142.50,90.96 L143.00,89.49 L143.50,88.51 L144.00,87.03 L144.50,85.69 L145.00,84.68 L145.50,83.85 L146.00,83.34 L146.50,82.32 L147.00,81.79 L147.50,81.36 L148.00,80.89 L148.50,80.89 L149.00,80.29 L149.50,80.36 L150.00,80.26 L150.50,80.41 L151.00,80.33 L151.50,81.05 L152.00,81.12 L152.50,81.57 L153.00,81.91 L153.50,82.48 L154.00,83.27 L154.50,83.99 L155.00,84.68 L155.50,85.55 L156.00,86.35 L156.50,87.19 L157.00,88.32 L157.50,89.35 L158.00,90.35 L158.50,91.63 L159.00,92.90 L159.50,93.98 L160.00,95.18 L160.50,96.68 L161.00,98.25 L161.50,99.39 L162.00,100.90 L162.50,102.43 L163.00,104.17 L163.50,105.26 L164.00,107.14 L164.50,108.81 L165.00,110.04 L165.50,111.91 L166.00,113.27 L166.50,114.58 L167.00,116.14 L167.50,117.28 L168.00,118.79 L168.50,120.47 L169.00,121.33 L169.50,122.96 L170.00,123.84 L170.50,125.11 L171.00,126.01 L171.50,126.68 L172.00,127.79 L172.50,128.75 L173.00,129.33 L173.50,130.03 L174.00,130.98 L174.50,131.47 L175.00,131.91 L175.50,132.61 L176.00,133.35 L176.50,133.61 L177.00,134.24 L177.50,134.71 L178.00,134.84 L178.50,134.99 L179.00,135.28 L179.50,135.76 L180.00,136.17 L180.50,136.33 L181.00,136.61 L181.50,136.67 L182.00,136.98 L182.50,137.03 L183.00,137.21 L183.50,137.19 L184.00,137.27 L184.50,137.54 L185.00,137.54 L185.50,137.64 L186.00,137.97 L186.50,137.93 L187.00,138.32 L187.50,138.23 L188.00,138.07 L188.50,138.34 L189.00,138.34 L189.50,138.25 L190.00,138.57 L190.50,138.35 L191.00,138.21 L191.50,138.68 L192.00,138.52 L192.50,138.88 L193.00,138.61 L193.50,138.57 L194.00,139.02 L194.50,138.67 L195.00,138.90 L195.50,139.12 L196.00,138.96 L196.50,138.96 L197.00,139.02 L197.50,139.17 L198.00,138.95 L198.50,139.20 L199.00,139.22 L199.50,139.47 L200.00,139.15 L200.50,139.09 L201.00,139.37 L201.50,139.23 L202.00,139.36 L202.50,139.37 L203.00,139.55 L203.50,139.31 L204.00,139.42 L204.50,139.16 L205.00,139.36 L205.50,139.75 L206.00,139.44 L206.50,139.46 L207.00,139.41 L207.50,139.71 L208.00,139.67 L208.50,139.49 L209.00,139.79 L209.50,139.75 L210.00,139.84 L210.50,139.65 L211.00,140.03 L211.50,139.85 L212.00,139.78 L212.50,139.74 L213.00,139.79 L213.50,139.97 L214.00,139.82 L214.50,140.03 L215.00,139.96 L215.50,140.09 L216.00,140.01" fill="none" stroke="#111" stroke-width="1.1" stroke-linejoin="round"/>
<path d="M22.50,186.37 L23.50,185.31 L24.50,186.69 L25.50,184.37 L26.50,185.36 L27.50,185.08 L28.50,185.64 L29.50,184.62 L30.50,185.77 L31.50,185.10 L32.50,185.81 L33.50,184.92 L34.50,184.82 L35.50,185.26 L36.50,186.16 L37.50,184.51 L38.50,185.90 L39.50,185.32 L40.50,183.66 L41.50,184.09 L42.50,184.01 L43.50,184.61 L44.50,183.52 L45.50,182.45 L46.50,182.90 L47.50,182.72 L48.50,182.57 L49.50,183.67 L50.50,182.15 L51.50,181.82 L52.50,182.13 L53.50,182.18 L54.50,182.96 L55.50,181.92 L56.50,181.43 L57.50,182.62 L58.50,181.55 L59.50,181.68 L60.50,181.35 L61.50,180.87 L62.50,181.44 L63.50,181.50 L64.50,180.55 L65.50,180.90 L66.50,180.70 L67.50,180.25 L68.50,180.30 L69.50,181.91 L70.50,181.26 L71.50,180.32 L72.50,180.67 L73.50,179.03 L74.50,181.02 L75.50,180.03 L76.50,180.27 L77.50,178.98 L78.50,178.32 L79.50,177.32 L80.50,177.89 L81.50,175.31 L82.50,174.16 L83.50,173.99 L84.50,172.04 L85.50,169.38 L86.50,167.46 L87.50,166.19 L88.50,162.85 L89.50,160.60 L90.50,157.70 L91.50,154.20 L92.50,150.15 L93.50,146.91 L94.50,144.52 L95.50,140.35 L96.50,135.69 L97.50,132.00 L98.50,128.99 L99.50,127.59 L100.50,127.18 L101.50,128.04 L102.50,128.67 L103.50,130.05 L104.50,132.15 L105.50,137.40 L106.50,143.11 L107.50,147.66 L108.50,151.47 L109.50,155.80 L110.50,159.65 L111.50,164.14 L112.50,166.48 L113.50,169.62 L114.50,171.71 L115.50,172.74 L116.50,175.24 L117.50,176.34 L118.50,177.36 L119.50,178.32 L120.50,179.90 L121.50,179.34 L122.50,178.47 L123.50,178.69 L124.50,179.54 L125.50,179.08 L126.50,179.65 L127.50,179.31 L128.50,179.16 L129.50,179.62 L130.50,178.80 L131.50,178.99 L132.50,178.94 L133.50,179.04 L134.50,179.88 L135.50,179.41 L136.50,179.25 L137.50,178.62 L138.50,176.72 L139.50,177.30 L140.50,176.82 L141.50,176.73 L142.50,174.90 L143.50,174.19 L144.50,173.78 L145.50,172.06 L146.50,171.70 L147.50,170.51 L148.50,169.19 L149.50,167.45 L150.50,164.85 L151.50,161.69 L152.50,160.54 L153.50,158.26 L154.50,153.99 L155.50,148.82 L156.50,144.19 L157.50,140.02 L158.50,135.42 L159.50,132.03 L160.50,127.53 L161.50,123.83 L162.50,118.76 L163.50,113.76 L164.50,110.20 L165.50,111.18 L166.50,114.49 L167.50,118.62 L168.50,122.26 L169.50,126.33 L170.50,130.67 L171.50,136.09 L172.50,141.39 L173.50,147.55 L174.50,152.69 L175.50,157.30 L176.50,162.08 L177.50,164.69 L178.50,170.26 L179.50,173.25 L180.50,175.92 L181.50,178.45 L182.50,180.32 L183.50,181.37 L184.50,182.93 L185.50,182.79 L186.50,183.19 L187.50,183.70 L188.50,183.92 L189.50,184.46 L190.50,185.05 L191.50,185.53 L192.50,185.13 L193.50,185.52 L194.50,186.62 L195.50,185.58 L196.50,184.71 L197.50,185.97 L198.50,184.68 L199.50,186.58 L200.50,188.04 L201.50,186.91 L202.50,188.19 L203.50,186.05 L204.50,189.00 L205.50,187.34 L206.50,188.59 L207.50,187.88 L208.50,188.07 L209.50,187.54 L210.50,186.89 L211.50,188.48 L212.50,188.40 L213.50,187.29 L214.50,188.00 L215.50,187.42" fill="none" stroke="#111" stroke-width="1.7" stroke-linejoin="round"/>
<path d="M319.00,64.13 L319.50,64.08 L320.00,64.28 L320.50,64.42 L321.00,64.57 L321.50,64.46 L322.00,64.39 L322.50,64.39 L323.00,64.65 L323.50,64.80 L324.00,64.61 L324.50,64.39 L325.00,64.44 L325.50,64.82 L326.00,64.60 L326.50,64.30 L327.00,64.53 L327.50,64.34 L328.00,64.40 L328.50,64.39 L329.00,64.32 L329.50,64.47 L330.00,64.34 L330.50,64.22 L331.00,64.33 L331.50,64.35 L332.00,63.94 L332.50,64.10 L333.00,63.95 L333.50,64.02 L334.00,63.81 L334.50,63.95 L335.00,63.89 L335.50,63.79 L336.00,63.62 L336.50,63.65 L337.00,63.48 L337.50,63.38 L338.00,63.54 L338.50,63.27 L339.00,63.53 L339.50,63.38 L340.00,62.89 L340.50,63.14 L341.00,62.84 L341.50,62.90 L342.00,62.80 L342.50,62.38 L343.00,62.51 L343.50,62.38 L344.00,62.42 L344.50,61.94 L345.00,62.07 L345.50,61.62 L346.00,61.54 L346.50,61.26 L347.00,61.39 L347.50,61.02 L348.00,60.98 L348.50,60.49 L349.00,60.20 L349.50,59.85 L350.00,59.23 L350.50,58.85 L351.00,58.56 L351.50,57.74 L352.00,57.24 L352.50,56.58 L353.00,56.03 L353.50,55.23 L354.00,54.60 L354.50,53.98 L355.00,53.27 L355.50,52.43 L356.00,51.99 L356.50,50.95 L357.00,50.24 L357.50,49.50 L358.00,49.11 L358.50,48.17 L359.00,47.33 L359.50,46.56 L360.00,46.04 L360.50,45.06 L361.00,44.27 L361.50,43.80 L362.00,42.77 L362.50,42.14 L363.00,41.44 L363.50,40.61 L364.00,39.91 L364.50,39.36 L365.00,38.31 L365.50,37.41 L366.00,36.54 L366.50,36.01 L367.00,35.22 L367.50,34.57 L368.00,33.76 L368.50,33.10 L369.00,32.47 L369.50,31.96 L370.00,31.56 L370.50,31.03 L371.00,30.69 L371.50,30.57 L372.00,29.99 L372.50,29.34 L373.00,29.52 L373.50,29.03 L374.00,28.58 L374.50,28.65 L375.00,28.35 L375.50,28.14 L376.00,28.07 L376.50,27.99 L377.00,28.17 L377.50,28.39 L378.00,28.29 L378.50,28.54 L379.00,28.93 L379.50,28.67 L380.00,29.11 L380.50,29.26 L381.00,29.41 L381.50,29.71 L382.00,30.19 L382.50,30.62 L383.00,30.90 L383.50,31.45 L384.00,32.07 L384.50,32.58 L385.00,33.27 L385.50,33.84 L386.00,34.50 L386.50,35.37 L387.00,35.87 L387.50,36.48 L388.00,37.26 L388.50,37.71 L389.00,38.50 L389.50,39.39 L390.00,40.10 L390.50,40.98 L391.00,41.51 L391.50,42.06 L392.00,43.36 L392.50,44.02 L393.00,44.50 L393.50,45.68 L394.00,46.32 L394.50,46.89 L395.00,47.97 L395.50,48.82 L396.00,49.99 L396.50,50.45 L397.00,51.31 L397.50,52.02 L398.00,52.66 L398.50,53.17 L399.00,53.89 L399.50,54.52 L400.00,54.92 L400.50,55.13 L401.00,55.51 L401.50,56.08 L402.00,56.30 L402.50,56.61 L403.00,56.73 L403.50,57.51 L404.00,57.56 L404.50,57.46 L405.00,57.90 L405.50,58.11 L406.00,57.74 L406.50,58.07 L407.00,58.19 L407.50,58.42 L408.00,58.35 L408.50,58.36 L409.00,58.37 L409.50,58.61 L410.00,58.54 L410.50,58.03 L411.00,57.79 L411.50,58.02 L412.00,57.32 L412.50,57.11 L413.00,56.89 L413.50,56.61 L414.00,56.32 L414.50,55.79 L415.00,55.12 L415.50,54.78 L416.00,54.14 L416.50,53.72 L417.00,52.73 L417.50,51.78 L418.00,51.04 L418.50,50.60 L419.00,49.47 L419.50,48.40 L420.00,47.74 L420.50,46.92 L421.00,46.17 L421.50,44.87 L422.00,44.12 L422.50,43.12 L423.00,41.85 L423.50,40.87 L424.00,40.11 L424.50,39.06 L425.00,37.89 L425.50,36.80 L426.00,35.91 L426.50,34.73 L427.00,33.76 L427.50,32.67 L428.00,31.84 L428.50,30.87 L429.00,30.25 L429.50,29.01 L430.00,28.34 L430.50,27.50 L431.00,26.45 L431.50,25.86 L432.00,24.62 L432.50,24.19 L433.00,23.59 L433.50,22.46 L434.00,21.91 L434.50,21.59 L435.00,20.77 L435.50,20.06 L436.00,19.64 L436.50,19.12 L437.00,18.88 L437.50,18.46 L438.00,18.02 L438.50,17.67 L439.00,17.50 L439.50,17.49 L440.00,17.15 L440.50,17.04 L441.00,16.82 L441.50,16.58 L442.00,16.66 L442.50,16.91 L443.00,16.92 L443.50,16.92 L444.00,17.01 L444.50,17.50 L445.00,17.71 L445.50,18.03 L446.00,18.40 L446.50,18.90 L447.00,19.39 L447.50,20.05 L448.00,20.70 L448.50,21.51 L449.00,22.27 L449.50,23.01 L450.00,24.03 L450.50,25.13 L451.00,26.06 L451.50,27.27 L452.00,28.45 L452.50,29.28 L453.00,30.28 L453.50,31.90 L454.00,32.92 L454.50,34.24 L455.00,35.15 L455.50,36.81 L456.00,37.85 L456.50,38.89 L457.00,39.99 L457.50,41.17 L458.00,42.22 L458.50,43.27 L459.00,44.19 L459.50,45.56 L460.00,46.36 L460.50,47.33 L461.00,48.25 L461.50,48.82 L462.00,50.04 L462.50,50.72 L463.00,51.50 L463.50,52.31 L464.00,52.87 L464.50,53.85 L465.00,54.29 L465.50,54.91 L466.00,55.54 L466.50,56.30 L467.00,56.97 L467.50,57.32 L468.00,57.72 L468.50,58.62 L469.00,58.80 L469.50,59.62 L470.00,59.89 L470.50,60.24 L471.00,60.68 L471.50,61.25 L472.00,61.71 L472.50,61.93 L473.00,62.46 L473.50,62.97 L474.00,62.97 L474.50,63.15 L475.00,63.46 L475.50,63.70 L476.00,64.09 L476.50,64.32 L477.00,64.46 L477.50,64.94 L478.00,64.74 L478.50,65.00 L479.00,65.64 L479.50,65.62 L480.00,65.66 L480.50,65.76 L481.00,66.07 L481.50,65.98 L482.00,66.01 L482.50,65.90 L483.00,66.15 L483.50,66.13 L484.00,66.20 L484.50,66.27 L485.00,66.42 L485.50,66.43 L486.00,66.65 L486.50,66.36 L487.00,66.57 L487.50,66.91 L488.00,66.66 L488.50,66.86 L489.00,66.88 L489.50,66.93 L490.00,66.87 L490.50,66.57 L491.00,66.76 L491.50,66.77 L492.00,66.62 L492.50,66.80 L493.00,66.70 L493.50,66.66 L494.00,66.96 L494.50,66.95 L495.00,66.87 L495.50,66.85 L496.00,66.93 L496.50,66.97 L497.00,66.98 L497.50,67.05 L498.00,67.01 L498.50,67.15 L499.00,67.18 L499.50,67.17 L500.00,67.03 L500.50,67.05 L501.00,67.22 L501.50,67.14 L502.00,67.18 L502.50,66.89 L503.00,66.90 L503.50,67.27 L504.00,67.27 L504.50,67.44 L505.00,67.35 L505.50,67.28 L506.00,67.26 L506.50,67.05 L507.00,67.40 L507.50,67.18 L508.00,67.36 L508.50,67.31 L509.00,67.33 L509.50,67.42 L510.00,67.22 L510.50,67.24 L511.00,67.17 L511.50,67.24 L512.00,67.55" fill="none" stroke="#111" stroke-width="1.1" stroke-linejoin="round"/>
<path d="M319.00,90.06 L319.50,90.17 L320.00,89.60 L320.50,89.88 L321.00,90.05 L321.50,90.10 L322.00,90.00 L322.50,90.12 L323.00,89.94 L323.50,89.98 L324.00,89.93 L324.50,89.74 L325.00,89.77 L325.50,89.96 L326.00,89.81 L326.50,90.09 L327.00,90.09 L327.50,90.17 L328.00,89.90 L328.50,90.11 L329.00,89.76 L329.50,89.77 L330.00,89.89 L330.50,89.90 L331.00,89.60 L331.50,89.54 L332.00,89.81 L332.50,89.57 L333.00,89.81 L333.50,89.61 L334.00,89.52 L334.50,89.42 L335.00,89.43 L335.50,89.17 L336.00,89.26 L336.50,88.92 L337.00,88.85 L337.50,88.68 L338.00,88.75 L338.50,88.54 L339.00,88.28 L339.50,88.56 L340.00,88.06 L340.50,87.94 L341.00,87.85 L341.50,87.87 L342.00,87.40 L342.50,87.33 L343.00,87.02 L343.50,86.56 L344.00,86.66 L344.50,86.43 L345.00,85.95 L345.50,85.67 L346.00,85.11 L346.50,84.74 L347.00,84.51 L347.50,84.23 L348.00,83.59 L348.50,83.19 L349.00,82.74 L349.50,82.01 L350.00,81.44 L350.50,80.90 L351.00,79.80 L351.50,79.40 L352.00,78.29 L352.50,77.93 L353.00,77.19 L353.50,76.37 L354.00,75.58 L354.50,75.02 L355.00,74.26 L355.50,73.63 L356.00,72.79 L356.50,72.34 L357.00,71.45 L357.50,70.93 L358.00,70.30 L358.50,69.96 L359.00,68.98 L359.50,68.59 L360.00,68.29 L360.50,67.49 L361.00,66.90 L361.50,66.64 L362.00,66.08 L362.50,65.80 L363.00,65.11 L363.50,64.86 L364.00,64.54 L364.50,64.22 L365.00,63.54 L365.50,63.57 L366.00,62.89 L366.50,62.48 L367.00,62.26 L367.50,62.12 L368.00,61.76 L368.50,61.60 L369.00,61.33 L369.50,61.02 L370.00,60.66 L370.50,60.70 L371.00,59.86 L371.50,59.64 L372.00,59.58 L372.50,59.25 L373.00,58.96 L373.50,58.98 L374.00,58.88 L374.50,58.61 L375.00,58.98 L375.50,59.02 L376.00,59.00 L376.50,58.73 L377.00,58.83 L377.50,58.65 L378.00,58.87 L378.50,58.78 L379.00,59.02 L379.50,59.00 L380.00,59.34 L380.50,59.48 L381.00,59.74 L381.50,59.54 L382.00,59.77 L382.50,60.40 L383.00,60.58 L383.50,61.10 L384.00,61.49 L384.50,61.92 L385.00,62.51 L385.50,62.97 L386.00,63.49 L386.50,63.84 L387.00,64.80 L387.50,65.13 L388.00,65.86 L388.50,66.33 L389.00,67.06 L389.50,67.48 L390.00,68.08 L390.50,68.67 L391.00,69.15 L391.50,69.81 L392.00,70.52 L392.50,71.18 L393.00,71.72 L393.50,72.83 L394.00,73.05 L394.50,73.81 L395.00,74.80 L395.50,75.03 L396.00,75.84 L396.50,76.40 L397.00,76.80 L397.50,77.12 L398.00,77.58 L398.50,78.25 L399.00,78.73 L399.50,78.76 L400.00,79.45 L400.50,79.69 L401.00,80.26 L401.50,80.48 L402.00,80.64 L402.50,81.00 L403.00,81.35 L403.50,81.83 L404.00,82.19 L404.50,82.21 L405.00,82.44 L405.50,82.78 L406.00,82.92 L406.50,83.25 L407.00,83.41 L407.50,83.51 L408.00,83.52 L408.50,83.73 L409.00,83.85 L409.50,83.68 L410.00,83.78 L410.50,83.52 L411.00,83.12 L411.50,83.11 L412.00,82.35 L412.50,82.31 L413.00,81.98 L413.50,81.18 L414.00,80.66 L414.50,80.19 L415.00,79.54 L415.50,78.58 L416.00,77.64 L416.50,76.75 L417.00,75.60 L417.50,74.29 L418.00,73.32 L418.50,72.23 L419.00,70.90 L419.50,70.10 L420.00,68.87 L420.50,68.05 L421.00,66.68 L421.50,65.74 L422.00,64.64 L422.50,64.05 L423.00,63.07 L423.50,62.15 L424.00,61.24 L424.50,60.30 L425.00,59.50 L425.50,58.36 L426.00,57.98 L426.50,57.21 L427.00,56.63 L427.50,55.91 L428.00,55.74 L428.50,55.03 L429.00,54.27 L429.50,54.09 L430.00,53.54 L430.50,52.95 L431.00,52.66 L431.50,52.21 L432.00,51.67 L432.50,51.44 L433.00,51.47 L433.50,51.20 L434.00,50.97 L434.50,50.55 L435.00,50.45 L435.50,50.38 L436.00,50.32 L436.50,49.95 L437.00,49.79 L437.50,50.01 L438.00,49.75 L438.50,49.61 L439.00,49.51 L439.50,49.50 L440.00,49.84 L440.50,49.79 L441.00,49.66 L441.50,49.64 L442.00,50.23 L442.50,50.39 L443.00,50.54 L443.50,50.71 L444.00,50.55 L444.50,50.92 L445.00,51.50 L445.50,51.71 L446.00,52.16 L446.50,52.46 L447.00,52.92 L447.50,53.64 L448.00,54.09 L448.50,54.80 L449.00,55.53 L449.50,56.26 L450.00,57.15 L450.50,57.94 L451.00,58.31 L451.50,59.25 L452.00,59.98 L452.50,60.98 L453.00,61.51 L453.50,62.60 L454.00,63.42 L454.50,64.25 L455.00,64.86 L455.50,65.83 L456.00,66.55 L456.50,67.62 L457.00,68.53 L457.50,68.98 L458.00,69.89 L458.50,70.79 L459.00,71.52 L459.50,72.60 L460.00,73.12 L460.50,73.94 L461.00,74.48 L461.50,75.63 L462.00,76.16 L462.50,76.99 L463.00,77.61 L463.50,78.03 L464.00,78.82 L464.50,79.59 L465.00,80.58 L465.50,81.16 L466.00,82.02 L466.50,82.70 L467.00,83.37 L467.50,84.12 L468.00,84.62 L468.50,84.92 L469.00,85.61 L469.50,86.48 L470.00,86.56 L470.50,87.40 L471.00,87.90 L471.50,88.02 L472.00,88.60 L472.50,88.76 L473.00,89.49 L473.50,89.64 L474.00,89.93 L474.50,90.41 L475.00,90.72 L475.50,90.98 L476.00,91.36 L476.50,91.52 L477.00,91.64 L477.50,92.04 L478.00,92.34 L478.50,92.16 L479.00,92.14 L479.50,92.18 L480.00,92.49 L480.50,92.43 L481.00,92.54 L481.50,92.29 L482.00,92.48 L482.50,92.53 L483.00,92.89 L483.50,92.75 L484.00,92.53 L484.50,92.94 L485.00,93.07 L485.50,93.12 L486.00,92.65 L486.50,93.00 L487.00,93.12 L487.50,93.10 L488.00,92.99 L488.50,92.77 L489.00,92.99 L489.50,93.02 L490.00,93.17 L490.50,93.20 L491.00,93.08 L491.50,93.25 L492.00,92.98 L492.50,93.05 L493.00,93.16 L493.50,93.26 L494.00,93.14 L494.50,93.38 L495.00,93.27 L495.50,93.08 L496.00,93.24 L496.50,93.11 L497.00,93.11 L497.50,93.05 L498.00,93.48 L498.50,93.42 L499.00,93.05 L499.50,93.46 L500.00,93.45 L500.50,93.26 L501.00,93.40 L501.50,93.63 L502.00,93.38 L502.50,93.40 L503.00,93.51 L503.50,93.20 L504.00,93.17 L504.50,93.15 L505.00,93.35 L505.50,93.50 L506.00,93.25 L506.50,93.17 L507.00,93.41 L507.50,93.33 L508.00,93.48 L508.50,93.38 L509.00,93.37 L509.50,93.39 L510.00,93.41 L510.50,93.26 L511.00,93.24 L511.50,93.64 L512.00,93.70" fill="none" stroke="#111" stroke-width="1.1" stroke-linejoin="round"/>
<path d="M319.00,112.86 L319.50,112.91 L320.00,112.59 L320.50,112.25 L321.00,112.33 L321.50,112.04 L322.00,112.39 L322.50,112.85 L323.00,112.09 L323.50,112.02 L324.00,112.47 L324.50,112.44 L325.00,112.40 L325.50,112.06 L326.00,112.52 L326.50,112.93 L327.00,112.22 L327.50,112.66 L328.00,112.15 L328.50,112.40 L329.00,112.14 L329.50,112.69 L330.00,112.12 L330.50,112.53 L331.00,112.23 L331.50,111.81 L332.00,110.77 L332.50,111.03 L333.00,110.90 L333.50,110.63 L334.00,109.65 L334.50,109.75 L335.00,109.24 L335.50,108.99 L336.00,109.42 L336.50,108.34 L337.00,108.30 L337.50,108.29 L338.00,107.29 L338.50,107.04 L339.00,106.64 L339.50,106.10 L340.00,105.01 L340.50,104.93 L341.00,104.80 L341.50,102.96 L342.00,103.22 L342.50,102.18 L343.00,101.11 L343.50,101.37 L344.00,100.06 L344.50,98.42 L345.00,98.06 L345.50,97.36 L346.00,96.14 L346.50,95.55 L347.00,94.29 L347.50,93.60 L348.00,92.89 L348.50,91.03 L349.00,90.37 L349.50,89.11 L350.00,88.39 L350.50,86.98 L351.00,86.39 L351.50,85.78 L352.00,85.50 L352.50,84.94 L353.00,83.32 L353.50,82.91 L354.00,82.87 L354.50,81.21 L355.00,81.22 L355.50,80.79 L356.00,80.80 L356.50,80.11 L357.00,79.34 L357.50,79.06 L358.00,78.96 L358.50,79.63 L359.00,78.90 L359.50,79.09 L360.00,79.55 L360.50,79.60 L361.00,79.84 L361.50,79.77 L362.00,80.51 L362.50,80.64 L363.00,81.58 L363.50,81.65 L364.00,81.64 L364.50,82.17 L365.00,82.01 L365.50,82.82 L366.00,82.66 L366.50,83.18 L367.00,82.76 L367.50,83.79 L368.00,83.41 L368.50,83.79 L369.00,85.04 L369.50,85.42 L370.00,86.51 L370.50,87.92 L371.00,87.47 L371.50,88.21 L372.00,89.18 L372.50,89.91 L373.00,90.23 L373.50,90.78 L374.00,91.69 L374.50,92.13 L375.00,92.00 L375.50,92.85 L376.00,93.34 L376.50,93.33 L377.00,94.26 L377.50,94.19 L378.00,95.29 L378.50,95.34 L379.00,95.64 L379.50,95.70 L380.00,96.22 L380.50,95.78 L381.00,96.44 L381.50,97.34 L382.00,96.70 L382.50,98.14 L383.00,97.39 L383.50,98.69 L384.00,98.34 L384.50,99.29 L385.00,99.33 L385.50,98.97 L386.00,100.40 L386.50,100.80 L387.00,100.53 L387.50,100.79 L388.00,101.19 L388.50,101.21 L389.00,102.39 L389.50,102.08 L390.00,102.61 L390.50,102.62 L391.00,102.97 L391.50,102.97 L392.00,104.21 L392.50,103.84 L393.00,104.43 L393.50,104.17 L394.00,103.97 L394.50,104.18 L395.00,104.14 L395.50,104.40 L396.00,104.27 L396.50,104.32 L397.00,103.90 L397.50,104.13 L398.00,105.08 L398.50,104.10 L399.00,103.84 L399.50,104.23 L400.00,104.44 L400.50,103.03 L401.00,103.21 L401.50,102.70 L402.00,101.88 L402.50,102.49 L403.00,101.78 L403.50,101.40 L404.00,100.61 L404.50,100.60 L405.00,99.67 L405.50,99.24 L406.00,98.20 L406.50,97.43 L407.00,97.66 L407.50,96.07 L408.00,95.47 L408.50,94.37 L409.00,93.19 L409.50,92.11 L410.00,91.47 L410.50,89.97 L411.00,88.88 L411.50,87.77 L412.00,87.04 L412.50,85.63 L413.00,84.30 L413.50,82.71 L414.00,81.19 L414.50,80.95 L415.00,79.80 L415.50,78.23 L416.00,77.40 L416.50,76.42 L417.00,75.40 L417.50,74.43 L418.00,72.91 L418.50,72.76 L419.00,70.74 L419.50,70.71 L420.00,69.72 L420.50,69.10 L421.00,68.81 L421.50,68.07 L422.00,66.58 L422.50,66.06 L423.00,66.90 L423.50,66.12 L424.00,66.58 L424.50,67.07 L425.00,66.30 L425.50,66.45 L426.00,67.72 L426.50,68.10 L427.00,68.52 L427.50,69.25 L428.00,69.57 L428.50,70.03 L429.00,71.30 L429.50,71.71 L430.00,72.18 L430.50,73.78 L431.00,74.29 L431.50,75.21 L432.00,75.41 L432.50,76.30 L433.00,76.95 L433.50,77.79 L434.00,79.04 L434.50,79.49 L435.00,80.78 L435.50,81.61 L436.00,83.07 L436.50,82.47 L437.00,84.07 L437.50,84.32 L438.00,84.93 L438.50,84.89 L439.00,85.80 L439.50,86.76 L440.00,86.89 L440.50,87.40 L441.00,87.69 L441.50,88.69 L442.00,88.63 L442.50,88.24 L443.00,89.17 L443.50,89.07 L444.00,89.50 L444.50,90.56 L445.00,91.82 L445.50,91.87 L446.00,91.99 L446.50,92.73 L447.00,94.24 L447.50,94.54 L448.00,95.17 L448.50,95.80 L449.00,96.49 L449.50,97.43 L450.00,97.94 L450.50,98.39 L451.00,98.45 L451.50,99.61 L452.00,99.65 L452.50,100.85 L453.00,100.37 L453.50,101.27 L454.00,101.74 L454.50,101.62 L455.00,103.23 L455.50,103.50 L456.00,103.08 L456.50,103.92 L457.00,104.09 L457.50,103.46 L458.00,104.67 L458.50,104.86 L459.00,105.22 L459.50,105.06 L460.00,105.70 L460.50,106.06 L461.00,106.93 L461.50,106.92 L462.00,107.13 L462.50,108.09 L463.00,107.61 L463.50,108.03 L464.00,107.81 L464.50,109.51 L465.00,109.61 L465.50,109.92 L466.00,110.14 L466.50,110.23 L467.00,110.56 L467.50,110.66 L468.00,110.95 L468.50,111.32 L469.00,112.16 L469.50,112.03 L470.00,112.03 L470.50,112.06 L471.00,112.26 L471.50,113.38 L472.00,113.15 L472.50,113.17 L473.00,113.18 L473.50,113.04 L474.00,113.61 L474.50,114.12 L475.00,113.73 L475.50,113.91 L476.00,114.01 L476.50,114.23 L477.00,113.64 L477.50,114.27 L478.00,114.10 L478.50,114.87 L479.00,114.29 L479.50,114.90 L480.00,115.34 L480.50,114.67 L481.00,114.62 L481.50,115.00 L482.00,114.97 L482.50,114.63 L483.00,115.26 L483.50,115.93 L484.00,115.07 L484.50,115.13 L485.00,114.84 L485.50,115.42 L486.00,114.83 L486.50,114.92 L487.00,115.91 L487.50,115.07 L488.00,115.89 L488.50,116.10 L489.00,115.62 L489.50,115.77 L490.00,116.35 L490.50,115.52 L491.00,115.39 L491.50,115.11 L492.00,115.70 L492.50,116.30 L493.00,116.12 L493.50,115.38 L494.00,115.45 L494.50,115.61 L495.00,115.95 L495.50,115.78 L496.00,115.97 L496.50,116.03 L497.00,115.81 L497.50,115.94 L498.00,116.06 L498.50,115.96 L499.00,116.22 L499.50,116.78 L500.00,116.29 L500.50,116.09 L501.00,115.42 L501.50,116.26 L502.00,115.35 L502.50,115.58 L503.00,116.50 L503.50,116.45 L504.00,116.12 L504.50,115.51 L505.00,116.06 L505.50,115.95 L506.00,116.49 L506.50,117.04 L507.00,116.34 L507.50,115.95 L508.00,115.80 L508.50,116.25 L509.00,116.21 L509.50,115.83 L510.00,116.34 L510.50,115.83 L511.00,116.74 L511.50,116.72 L512.00,116.73" fill="none" stroke="#111" stroke-width="1.1" stroke-linejoin="round"/>
<path d="M319.40,168.43 L320.20,167.05 L321.00,167.75 L321.80,162.44 L322.60,167.15 L323.40,173.01 L324.20,165.98 L325.00,162.85 L325.80,172.08 L326.60,167.25 L327.40,164.01 L328.20,167.11 L329.00,172.67 L329.80,163.98 L330.60,168.82 L331.40,167.05 L332.20,163.87 L333.00,163.34 L333.80,171.12 L334.60,164.52 L335.40,164.99 L336.20,166.01 L337.00,164.70 L337.80,158.26 L338.60,163.20 L339.40,164.46 L340.20,166.20 L341.00,164.91 L341.80,163.89 L342.60,161.88 L343.40,165.98 L344.20,161.61 L345.00,165.18 L345.80,163.67 L346.60,163.82 L347.40,162.83 L348.20,161.21 L349.00,160.66 L349.80,163.81 L350.60,161.49 L351.40,156.11 L352.20,160.29 L353.00,166.63 L353.80,163.39 L354.60,162.30 L355.40,161.16 L356.20,163.81 L357.00,159.74 L357.80,161.75 L358.60,154.22 L359.40,161.44 L360.20,167.06 L361.00,161.55 L361.80,155.75 L362.60,160.44 L363.40,158.75 L364.20,163.91 L365.00,152.95 L365.80,152.82 L366.60,155.42 L367.40,158.20 L368.20,162.31 L369.00,159.17 L369.80,159.66 L370.60,153.09 L371.40,156.15 L372.20,157.85 L373.00,159.04 L373.80,159.83 L374.60,158.45 L375.40,156.57 L376.20,155.32 L377.00,156.95 L377.80,155.42 L378.60,157.99 L379.40,158.70 L380.20,155.81 L381.00,149.19 L381.80,152.77 L382.60,144.05 L383.40,146.19 L384.20,148.67 L385.00,145.36 L385.80,146.57 L386.60,143.03 L387.40,139.00 L388.20,134.18 L389.00,132.14 L389.80,126.98 L390.60,118.20 L391.40,123.14 L392.20,116.72 L393.00,113.37 L393.80,112.10 L394.60,109.28 L395.40,105.48 L396.20,102.76 L397.00,97.97 L397.80,99.07 L398.60,101.26 L399.40,105.78 L400.20,107.55 L401.00,113.75 L401.80,115.08 L402.60,121.06 L403.40,122.20 L404.20,122.56 L405.00,127.24 L405.80,133.94 L406.60,139.50 L407.40,146.09 L408.20,147.89 L409.00,151.36 L409.80,151.93 L410.60,155.52 L411.40,148.63 L412.20,156.09 L413.00,156.71 L413.80,151.95 L414.60,158.96 L415.40,158.39 L416.20,163.39 L417.00,156.34 L417.80,158.73 L418.60,162.62 L419.40,165.12 L420.20,161.39 L421.00,159.67 L421.80,162.14 L422.60,160.43 L423.40,160.89 L424.20,161.81 L425.00,165.43 L425.80,154.29 L426.60,162.12 L427.40,165.08 L428.20,160.30 L429.00,159.25 L429.80,161.35 L430.60,154.44 L431.40,163.20 L432.20,160.94 L433.00,161.92 L433.80,162.91 L434.60,154.40 L435.40,158.74 L436.20,160.58 L437.00,161.58 L437.80,160.26 L438.60,159.45 L439.40,153.71 L440.20,159.18 L441.00,163.50 L441.80,151.32 L442.60,157.36 L443.40,153.88 L444.20,160.69 L445.00,154.38 L445.80,147.92 L446.60,152.27 L447.40,142.43 L448.20,141.37 L449.00,137.15 L449.80,135.28 L450.60,129.84 L451.40,127.85 L452.20,123.59 L453.00,116.12 L453.80,112.06 L454.60,106.66 L455.40,103.97 L456.20,95.58 L457.00,91.71 L457.80,86.65 L458.60,84.61 L459.40,82.09 L460.20,80.02 L461.00,76.31 L461.80,76.77 L462.60,77.67 L463.40,79.17 L464.20,82.41 L465.00,82.93 L465.80,88.78 L466.60,95.33 L467.40,107.18 L468.20,120.26 L469.00,122.47 L469.80,130.91 L470.60,139.27 L471.40,145.20 L472.20,148.29 L473.00,152.85 L473.80,159.89 L474.60,157.33 L475.40,160.14 L476.20,160.60 L477.00,166.80 L477.80,167.07 L478.60,170.11 L479.40,167.83 L480.20,168.17 L481.00,168.13 L481.80,171.44 L482.60,167.04 L483.40,170.85 L484.20,172.96 L485.00,170.93 L485.80,170.99 L486.60,170.91 L487.40,172.64 L488.20,174.47 L489.00,171.31 L489.80,172.96 L490.60,179.40 L491.40,172.80 L492.20,171.36 L493.00,175.44 L493.80,176.68 L494.60,174.38 L495.40,171.79 L496.20,172.79 L497.00,171.75 L497.80,177.14 L498.60,166.17 L499.40,175.99 L500.20,171.25 L501.00,169.89 L501.80,175.40 L502.60,174.78 L503.40,166.84 L504.20,171.48 L505.00,168.80 L505.80,174.27 L506.60,176.51 L507.40,171.38 L508.20,171.83 L509.00,166.26 L509.80,168.83 L510.60,167.75 L511.40,173.91" fill="none" stroke="#111" stroke-width="1.4" stroke-linejoin="round"/>
<path d="M22.50,319.19 L23.40,318.94 L24.30,320.60 L25.20,321.85 L26.10,322.27 L27.00,323.55 L27.90,323.48 L28.80,324.03 L29.70,320.80 L30.60,322.65 L31.50,322.58 L32.40,320.95 L33.30,320.14 L34.20,322.63 L35.10,323.60 L36.00,321.93 L36.90,320.74 L37.80,321.16 L38.70,320.14 L39.60,320.68 L40.50,319.50 L41.40,320.19 L42.30,321.29 L43.20,320.97 L44.10,319.67 L45.00,319.56 L45.90,318.38 L46.80,317.74 L47.70,318.62 L48.60,315.69 L49.50,316.25 L50.40,316.14 L51.30,315.36 L52.20,315.32 L53.10,313.19 L54.00,311.31 L54.90,310.41 L55.80,311.43 L56.70,306.52 L57.60,304.56 L58.50,302.55 L59.40,300.58 L60.30,298.61 L61.20,294.41 L62.10,294.95 L63.00,292.13 L63.90,289.63 L64.80,287.88 L65.70,287.57 L66.60,286.59 L67.50,285.16 L68.40,284.12 L69.30,284.81 L70.20,284.04 L71.10,283.93 L72.00,282.34 L72.90,283.13 L73.80,281.32 L74.70,280.78 L75.60,282.31 L76.50,283.98 L77.40,283.88 L78.30,284.48 L79.20,284.94 L80.10,285.55 L81.00,285.59 L81.90,286.94 L82.80,285.19 L83.70,287.68 L84.60,287.00 L85.50,288.27 L86.40,291.08 L87.30,290.75 L88.20,291.95 L89.10,292.41 L90.00,293.42 L90.90,295.09 L91.80,295.69 L92.70,296.32 L93.60,297.00 L94.50,297.49 L95.40,297.54 L96.30,298.52 L97.20,298.51 L98.10,299.36 L99.00,299.52 L99.90,300.49 L100.80,300.85 L101.70,299.30 L102.60,302.41 L103.50,303.86 L104.40,303.60 L105.30,305.63 L106.20,307.33 L107.10,307.72 L108.00,307.76 L108.90,309.92 L109.80,310.86 L110.70,310.16 L111.60,310.28 L112.50,311.71 L113.40,311.41 L114.30,309.39 L115.20,310.30 L116.10,309.35 L117.00,308.52 L117.90,306.65 L118.80,304.69 L119.70,302.45 L120.60,300.54 L121.50,298.62 L122.40,296.62 L123.30,294.59 L124.20,292.97 L125.10,292.66 L126.00,289.08 L126.90,286.24 L127.80,285.76 L128.70,280.37 L129.60,280.88 L130.50,277.39 L131.40,275.81 L132.30,275.33 L133.20,273.47 L134.10,272.97 L135.00,271.07 L135.90,270.56 L136.80,270.12 L137.70,269.00 L138.60,270.01 L139.50,268.86 L140.40,269.15 L141.30,270.19 L142.20,271.93 L143.10,271.88 L144.00,270.77 L144.90,272.83 L145.80,274.60 L146.70,274.31 L147.60,277.14 L148.50,278.85 L149.40,281.89 L150.30,282.60 L151.20,284.85 L152.10,286.19 L153.00,288.23 L153.90,287.43 L154.80,286.98 L155.70,288.01 L156.60,288.11 L157.50,288.63 L158.40,287.82 L159.30,289.07 L160.20,290.04 L161.10,290.46 L162.00,293.19 L162.90,292.53 L163.80,294.88 L164.70,294.76 L165.60,296.03 L166.50,297.78 L167.40,298.86 L168.30,301.88 L169.20,303.49 L170.10,304.20 L171.00,306.45 L171.90,309.05 L172.80,311.34 L173.70,311.44 L174.60,315.34 L175.50,315.45 L176.40,316.24 L177.30,317.97 L178.20,320.14 L179.10,319.85 L180.00,319.88 L180.90,321.47 L181.80,322.86 L182.70,321.55 L183.60,322.13 L184.50,322.17 L185.40,324.08 L186.30,323.68 L187.20,322.93 L188.10,325.12 L189.00,322.70 L189.90,323.29 L190.80,323.64 L191.70,324.20 L192.60,324.13 L193.50,323.73 L194.40,325.42 L195.30,326.03 L196.20,324.96 L197.10,324.11 L198.00,324.98 L198.90,323.88 L199.80,323.65 L200.70,323.14 L201.60,325.20 L202.50,326.62 L203.40,324.33 L204.30,325.18 L205.20,324.39 L206.10,325.47 L207.00,324.21 L207.90,325.08 L208.80,325.74 L209.70,327.17 L210.60,325.55 L211.50,325.65 L212.40,325.23 L213.30,324.67 L214.20,326.16 L215.10,324.25" fill="none" stroke="#111" stroke-width="1.1" stroke-linejoin="round"/>
<path d="M22.50,358.22 L23.20,358.38 L23.90,358.41 L24.60,358.78 L25.30,358.67 L26.00,358.83 L26.70,359.07 L27.40,359.10 L28.10,359.01 L28.80,358.74 L29.50,358.66 L30.20,358.65 L30.90,358.79 L31.60,358.87 L32.30,358.59 L33.00,358.51 L33.70,358.90 L34.40,358.20 L35.10,358.63 L35.80,358.73 L36.50,358.20 L37.20,358.06 L37.90,358.05 L38.60,358.35 L39.30,357.99 L40.00,357.33 L40.70,357.62 L41.40,357.89 L42.10,357.71 L42.80,357.41 L43.50,356.94 L44.20,356.21 L44.90,356.53 L45.60,356.11 L46.30,355.81 L47.00,355.78 L47.70,354.78 L48.40,354.04 L49.10,353.22 L49.80,351.94 L50.50,350.79 L51.20,349.77 L51.90,349.25 L52.60,348.20 L53.30,346.89 L54.00,346.29 L54.70,344.78 L55.40,342.96 L56.10,342.04 L56.80,340.20 L57.50,338.14 L58.20,336.96 L58.90,334.95 L59.60,333.19 L60.30,331.73 L61.00,329.22 L61.70,327.72 L62.40,326.28 L63.10,324.84 L63.80,322.98 L64.50,321.36 L65.20,319.93 L65.90,318.94 L66.60,318.12 L67.30,316.68 L68.00,315.95 L68.70,316.09 L69.40,315.82 L70.10,315.52 L70.80,315.93 L71.50,316.02 L72.20,315.73 L72.90,316.00 L73.60,316.53 L74.30,316.52 L75.00,316.55 L75.70,317.30 L76.40,317.46 L77.10,318.32 L77.80,318.69 L78.50,319.55 L79.20,320.67 L79.90,321.43 L80.60,322.23 L81.30,323.02 L82.00,324.69 L82.70,325.32 L83.40,325.32 L84.10,326.23 L84.80,327.49 L85.50,327.91 L86.20,328.85 L86.90,329.84 L87.60,330.35 L88.30,330.96 L89.00,331.48 L89.70,332.15 L90.40,332.78 L91.10,333.62 L91.80,333.80 L92.50,333.76 L93.20,334.42 L93.90,334.50 L94.60,334.34 L95.30,335.10 L96.00,335.79 L96.70,335.72 L97.40,336.61 L98.10,336.71 L98.80,337.32 L99.50,337.50 L100.20,339.05 L100.90,339.25 L101.60,340.16 L102.30,340.56 L103.00,341.18 L103.70,342.96 L104.40,343.35 L105.10,344.97 L105.80,345.25 L106.50,346.54 L107.20,346.52 L107.90,346.82 L108.60,348.11 L109.30,348.34 L110.00,348.69 L110.70,349.17 L111.40,348.57 L112.10,348.26 L112.80,347.96 L113.50,347.35 L114.20,346.75 L114.90,346.22 L115.60,345.51 L116.30,344.74 L117.00,343.45 L117.70,342.55 L118.40,341.44 L119.10,339.60 L119.80,338.09 L120.50,335.84 L121.20,334.21 L121.90,332.21 L122.60,329.79 L123.30,327.40 L124.00,325.55 L124.70,323.13 L125.40,320.86 L126.10,317.51 L126.80,315.39 L127.50,311.89 L128.20,310.23 L128.90,308.37 L129.60,306.87 L130.30,305.52 L131.00,304.57 L131.70,304.19 L132.40,302.94 L133.10,302.77 L133.80,301.92 L134.50,301.61 L135.20,300.77 L135.90,301.19 L136.60,301.32 L137.30,300.89 L138.00,301.24 L138.70,301.46 L139.40,302.72 L140.10,302.29 L140.80,302.99 L141.50,303.44 L142.20,304.42 L142.90,305.95 L143.60,306.57 L144.30,307.47 L145.00,308.99 L145.70,310.17 L146.40,311.29 L147.10,312.39 L147.80,313.17 L148.50,315.05 L149.20,315.23 L149.90,316.50 L150.60,316.91 L151.30,317.99 L152.00,318.58 L152.70,319.93 L153.40,320.57 L154.10,321.21 L154.80,321.79 L155.50,323.32 L156.20,324.24 L156.90,325.12 L157.60,325.73 L158.30,326.87 L159.00,327.86 L159.70,328.68 L160.40,329.91 L161.10,330.41 L161.80,331.50 L162.50,331.98 L163.20,334.08 L163.90,334.32 L164.60,335.77 L165.30,337.07 L166.00,337.94 L166.70,339.52 L167.40,341.15 L168.10,342.36 L168.80,343.76 L169.50,345.23 L170.20,346.61 L170.90,348.27 L171.60,349.88 L172.30,351.27 L173.00,352.68 L173.70,353.44 L174.40,354.20 L175.10,355.41 L175.80,356.00 L176.50,356.86 L177.20,357.22 L177.90,357.87 L178.60,358.30 L179.30,358.82 L180.00,358.68 L180.70,359.25 L181.40,359.61 L182.10,360.31 L182.80,360.01 L183.50,360.38 L184.20,360.38 L184.90,360.04 L185.60,361.14 L186.30,361.12 L187.00,361.42 L187.70,360.77 L188.40,361.36 L189.10,361.42 L189.80,360.99 L190.50,361.68 L191.20,361.43 L191.90,361.83 L192.60,361.25 L193.30,361.55 L194.00,361.66 L194.70,361.47 L195.40,361.99 L196.10,362.41 L196.80,362.07 L197.50,362.30 L198.20,362.60 L198.90,362.36 L199.60,362.13 L200.30,361.71 L201.00,362.42 L201.70,362.25 L202.40,362.25 L203.10,362.63 L203.80,362.61 L204.50,362.02 L205.20,362.59 L205.90,362.45 L206.60,362.83 L207.30,362.60 L208.00,362.91 L208.70,362.46 L209.40,362.57 L210.10,362.55 L210.80,362.68 L211.50,362.69 L212.20,363.13 L212.90,362.51 L213.60,362.84 L214.30,362.49 L215.00,362.42 L215.70,362.68 L216.40,362.42" fill="none" stroke="#111" stroke-width="1.1" stroke-linejoin="round"/>
<path d="M22.50,392.81 L23.20,393.28 L23.90,393.23 L24.60,392.62 L25.30,392.70 L26.00,392.62 L26.70,393.00 L27.40,392.78 L28.10,393.06 L28.80,392.15 L29.50,393.35 L30.20,392.77 L30.90,393.03 L31.60,392.74 L32.30,392.63 L33.00,392.89 L33.70,392.96 L34.40,392.52 L35.10,392.44 L35.80,392.61 L36.50,391.93 L37.20,391.55 L37.90,392.06 L38.60,391.51 L39.30,390.90 L40.00,391.10 L40.70,391.02 L41.40,390.55 L42.10,390.20 L42.80,390.47 L43.50,390.49 L44.20,389.78 L44.90,389.26 L45.60,389.29 L46.30,389.01 L47.00,388.22 L47.70,388.04 L48.40,387.69 L49.10,386.65 L49.80,385.76 L50.50,385.42 L51.20,384.56 L51.90,383.96 L52.60,382.17 L53.30,381.36 L54.00,380.18 L54.70,378.64 L55.40,377.95 L56.10,376.64 L56.80,374.67 L57.50,373.83 L58.20,372.03 L58.90,370.38 L59.60,368.74 L60.30,367.41 L61.00,365.10 L61.70,364.29 L62.40,362.82 L63.10,360.54 L63.80,359.89 L64.50,358.34 L65.20,357.43 L65.90,355.78 L66.60,354.74 L67.30,353.72 L68.00,352.21 L68.70,351.77 L69.40,350.73 L70.10,350.37 L70.80,349.67 L71.50,350.10 L72.20,349.96 L72.90,349.81 L73.60,350.28 L74.30,350.74 L75.00,351.20 L75.70,350.33 L76.40,351.56 L77.10,351.84 L77.80,352.15 L78.50,352.39 L79.20,353.79 L79.90,353.56 L80.60,354.86 L81.30,355.80 L82.00,355.47 L82.70,356.63 L83.40,357.01 L84.10,358.30 L84.80,359.50 L85.50,360.40 L86.20,359.77 L86.90,360.81 L87.60,361.80 L88.30,362.58 L89.00,362.57 L89.70,362.52 L90.40,363.23 L91.10,363.47 L91.80,363.76 L92.50,363.94 L93.20,364.72 L93.90,365.09 L94.60,365.37 L95.30,365.77 L96.00,365.90 L96.70,366.74 L97.40,367.98 L98.10,368.24 L98.80,368.66 L99.50,370.58 L100.20,371.33 L100.90,372.91 L101.60,373.32 L102.30,374.21 L103.00,374.93 L103.70,376.95 L104.40,378.22 L105.10,378.24 L105.80,379.24 L106.50,380.54 L107.20,380.83 L107.90,381.76 L108.60,382.39 L109.30,383.15 L110.00,383.93 L110.70,383.85 L111.40,384.28 L112.10,383.71 L112.80,383.67 L113.50,382.36 L114.20,381.90 L114.90,381.94 L115.60,380.63 L116.30,380.17 L117.00,379.24 L117.70,378.52 L118.40,377.22 L119.10,375.98 L119.80,374.03 L120.50,372.01 L121.20,370.01 L121.90,368.07 L122.60,365.88 L123.30,364.20 L124.00,362.50 L124.70,360.71 L125.40,358.52 L126.10,355.96 L126.80,354.62 L127.50,352.81 L128.20,351.29 L128.90,349.37 L129.60,347.21 L130.30,345.45 L131.00,344.66 L131.70,342.51 L132.40,341.26 L133.10,339.82 L133.80,337.50 L134.50,336.79 L135.20,335.95 L135.90,335.43 L136.60,335.15 L137.30,335.01 L138.00,335.15 L138.70,334.84 L139.40,335.70 L140.10,336.02 L140.80,337.02 L141.50,337.69 L142.20,339.11 L142.90,340.31 L143.60,341.30 L144.30,342.47 L145.00,343.56 L145.70,344.52 L146.40,345.77 L147.10,346.77 L147.80,348.15 L148.50,349.00 L149.20,350.10 L149.90,350.23 L150.60,351.71 L151.30,351.78 L152.00,352.38 L152.70,353.13 L153.40,353.55 L154.10,354.39 L154.80,354.64 L155.50,355.04 L156.20,355.72 L156.90,357.09 L157.60,357.29 L158.30,357.54 L159.00,358.68 L159.70,358.92 L160.40,360.99 L161.10,360.83 L161.80,362.67 L162.50,363.95 L163.20,364.62 L163.90,366.67 L164.60,368.40 L165.30,369.72 L166.00,371.14 L166.70,372.85 L167.40,374.02 L168.10,375.50 L168.80,376.75 L169.50,378.42 L170.20,379.27 L170.90,381.28 L171.60,382.25 L172.30,383.49 L173.00,385.48 L173.70,387.42 L174.40,388.56 L175.10,389.28 L175.80,390.72 L176.50,391.12 L177.20,391.86 L177.90,392.44 L178.60,392.14 L179.30,393.27 L180.00,393.16 L180.70,393.54 L181.40,393.49 L182.10,393.66 L182.80,394.01 L183.50,394.76 L184.20,395.17 L184.90,394.68 L185.60,395.17 L186.30,394.79 L187.00,394.30 L187.70,395.10 L188.40,395.28 L189.10,395.04 L189.80,395.36 L190.50,395.52 L191.20,395.08 L191.90,394.91 L192.60,395.41 L193.30,395.46 L194.00,395.45 L194.70,395.97 L195.40,396.27 L196.10,395.56 L196.80,395.99 L197.50,396.11 L198.20,396.07 L198.90,396.23 L199.60,395.76 L200.30,396.19 L201.00,396.67 L201.70,396.29 L202.40,395.83 L203.10,396.29 L203.80,396.56 L204.50,396.28 L205.20,395.98 L205.90,396.75 L206.60,395.81 L207.30,396.45 L208.00,396.29 L208.70,395.91 L209.40,396.78 L210.10,396.50 L210.80,395.99 L211.50,396.63 L212.20,396.28 L212.90,395.78 L213.60,396.22 L214.30,396.57 L215.00,396.71 L215.70,396.55 L216.40,396.51" fill="none" stroke="#111" stroke-width="1.1" stroke-linejoin="round"/>
<path d="M22.50,425.83 L23.40,427.37 L24.30,425.64 L25.20,425.57 L26.10,425.87 L27.00,425.59 L27.90,426.15 L28.80,425.07 L29.70,426.61 L30.60,426.35 L31.50,424.10 L32.40,425.54 L33.30,424.56 L34.20,424.88 L35.10,424.98 L36.00,424.85 L36.90,424.68 L37.80,425.54 L38.70,423.97 L39.60,423.59 L40.50,424.12 L41.40,424.87 L42.30,424.47 L43.20,424.04 L44.10,421.98 L45.00,423.96 L45.90,422.83 L46.80,423.14 L47.70,422.08 L48.60,421.52 L49.50,422.19 L50.40,421.69 L51.30,421.68 L52.20,420.53 L53.10,420.09 L54.00,420.95 L54.90,418.82 L55.80,421.28 L56.70,419.18 L57.60,419.77 L58.50,419.33 L59.40,418.97 L60.30,418.41 L61.20,419.19 L62.10,419.47 L63.00,418.63 L63.90,418.20 L64.80,418.15 L65.70,417.67 L66.60,417.47 L67.50,418.08 L68.40,416.68 L69.30,416.36 L70.20,417.78 L71.10,417.53 L72.00,416.13 L72.90,416.39 L73.80,415.98 L74.70,416.52 L75.60,413.96 L76.50,415.29 L77.40,413.87 L78.30,413.16 L79.20,412.75 L80.10,411.85 L81.00,410.74 L81.90,409.49 L82.80,409.55 L83.70,407.84 L84.60,405.12 L85.50,404.16 L86.40,402.78 L87.30,401.06 L88.20,399.30 L89.10,395.49 L90.00,393.54 L90.90,390.16 L91.80,386.14 L92.70,382.86 L93.60,378.93 L94.50,374.53 L95.40,370.40 L96.30,365.63 L97.20,361.16 L98.10,357.91 L99.00,356.83 L99.90,355.88 L100.80,355.45 L101.70,355.53 L102.60,356.79 L103.50,360.76 L104.40,368.10 L105.30,374.43 L106.20,380.59 L107.10,385.42 L108.00,389.97 L108.90,394.82 L109.80,399.01 L110.70,401.63 L111.60,404.86 L112.50,407.50 L113.40,409.00 L114.30,411.18 L115.20,412.12 L116.10,413.27 L117.00,414.59 L117.90,414.34 L118.80,415.16 L119.70,416.79 L120.60,417.46 L121.50,415.57 L122.40,417.09 L123.30,417.20 L124.20,416.91 L125.10,416.48 L126.00,416.22 L126.90,416.21 L127.80,415.28 L128.70,415.75 L129.60,414.61 L130.50,413.45 L131.40,415.66 L132.30,413.41 L133.20,413.56 L134.10,412.66 L135.00,412.11 L135.90,412.70 L136.80,414.29 L137.70,413.45 L138.60,412.92 L139.50,411.30 L140.40,412.95 L141.30,411.69 L142.20,411.42 L143.10,409.66 L144.00,407.45 L144.90,406.11 L145.80,406.12 L146.70,403.88 L147.60,402.10 L148.50,400.75 L149.40,398.55 L150.30,396.36 L151.20,394.34 L152.10,391.06 L153.00,388.63 L153.90,383.69 L154.80,379.76 L155.70,375.48 L156.60,370.50 L157.50,366.03 L158.40,361.58 L159.30,357.30 L160.20,353.09 L161.10,348.09 L162.00,343.39 L162.90,339.71 L163.80,336.76 L164.70,335.73 L165.60,336.86 L166.50,339.12 L167.40,342.46 L168.30,346.00 L169.20,350.51 L170.10,357.05 L171.00,365.61 L171.90,374.75 L172.80,381.73 L173.70,385.42 L174.60,390.33 L175.50,394.71 L176.40,398.74 L177.30,403.26 L178.20,407.15 L179.10,411.76 L180.00,415.11 L180.90,417.26 L181.80,419.65 L182.70,421.19 L183.60,424.40 L184.50,424.03 L185.40,424.53 L186.30,425.03 L187.20,425.55 L188.10,427.33 L189.00,426.01 L189.90,425.27 L190.80,426.15 L191.70,425.40 L192.60,426.64 L193.50,427.46 L194.40,427.20 L195.30,428.37 L196.20,429.24 L197.10,427.47 L198.00,428.94 L198.90,428.85 L199.80,430.34 L200.70,428.51 L201.60,429.60 L202.50,429.14 L203.40,429.00 L204.30,429.26 L205.20,430.81 L206.10,429.76 L207.00,429.78 L207.90,430.65 L208.80,430.66 L209.70,430.90 L210.60,428.62 L211.50,431.67 L212.40,430.47 L213.30,431.12 L214.20,430.77 L215.10,431.14" fill="none" stroke="#111" stroke-width="1.6" stroke-linejoin="round"/>
</svg>
</body></html>
